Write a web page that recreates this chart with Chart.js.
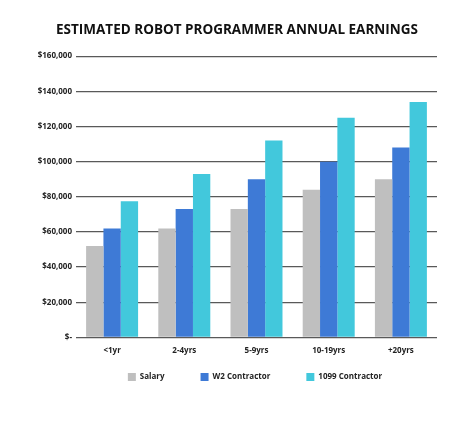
<!DOCTYPE html>
<html>
<head>
<meta charset="utf-8">
<script src="https://cdn.jsdelivr.net/npm/chart.js@4"></script>
<style>
  html, body { margin: 0; padding: 0; background: #fff; }
  #wrap { width: 474px; height: 431px; }
</style>
</head>
<body>
<div id="wrap"><canvas id="myChart"></canvas></div>
<script>
let categorias = ['<1yr', '2-4yrs', '5-9yrs', '10-19yrs', '+20yrs']
let salario = [52000, 62000, 73000, 84000, 90000]
let w2 = [62000, 73000, 90000, 100000, 108000]
let contrato1099 = [77500, 93000, 112000, 125000, 134000]
let yTicks = [0, 20000, 40000, 60000, 80000, 100000, 120000, 140000, 160000]

const fonte = "'Open Sans', 'DejaVu Sans', sans-serif"

const data = {
    labels: categorias,
    datasets: [
        {
            label: 'Salary',
            backgroundColor: 'rgb(191,191,191)',
            data: salario,
        },
        {
            label: 'W2 Contractor',
            backgroundColor: 'rgb(62,122,214)',
            data: w2,
        },
        {
            label: '1099 Contractor',
            backgroundColor: 'rgb(66,200,220)',
            data: contrato1099,
        },
    ],
}

// legenda mais perto do eixo e um pouco a direita, como na imagem
const moverLegenda = {
    id: 'moverLegenda',
    afterLayout(chart) {
        chart.legend.left += 18
        chart.legend.right += 18
        chart.legend.top -= 28
        chart.legend.bottom -= 28
    },
}

const config = {
    type: 'bar',
    data,
    plugins: [moverLegenda],
    options: {
        responsive: true,
        maintainAspectRatio: false,
        animation: false,
        barPercentage: 1,
        categoryPercentage: 0.72,
        layout: {
            padding: { left: 37, right: 37, top: 0, bottom: 12 }
        },
        plugins: {
            title: {
                display: true,
                text: 'ESTIMATED ROBOT PROGRAMMER ANNUAL EARNINGS',
                color: '#111',
                font: { family: fonte, size: 13.5, weight: 'bold' },
                padding: { top: 22, bottom: 18 },
            },
            legend: {
                position: 'bottom',
                labels: {
                    color: '#222',
                    boxWidth: 8,
                    boxHeight: 8,
                    padding: 36,
                    font: { family: fonte, size: 8, weight: 'bold' },
                },
            },
            tooltip: { enabled: false },
        },
        scales: {
            x: {
                grid: { display: false, drawTicks: false },
                border: { display: false },
                ticks: {
                    color: '#222',
                    padding: 9,
                    font: { family: fonte, size: 8, weight: 'bold' },
                },
            },
            y: {
                min: 0,
                max: 160000,
                afterFit: (scale) => { scale.width = 39 },
                afterBuildTicks: (scale) => {
                    scale.ticks = yTicks.map(v => ({ value: v }))
                },
                grid: { color: 'rgb(89,89,89)', lineWidth: 1.3, drawTicks: false },
                border: { display: false },
                ticks: {
                    color: '#222',
                    padding: 4,
                    font: { family: fonte, size: 8, weight: 'bold' },
                    callback: (v) => v === 0 ? '$-' : '$' + v.toLocaleString('en-US'),
                },
            },
        },
    },
}

const myChart = new Chart(document.getElementById('myChart').getContext('2d'), config)
</script>
</body>
</html>
